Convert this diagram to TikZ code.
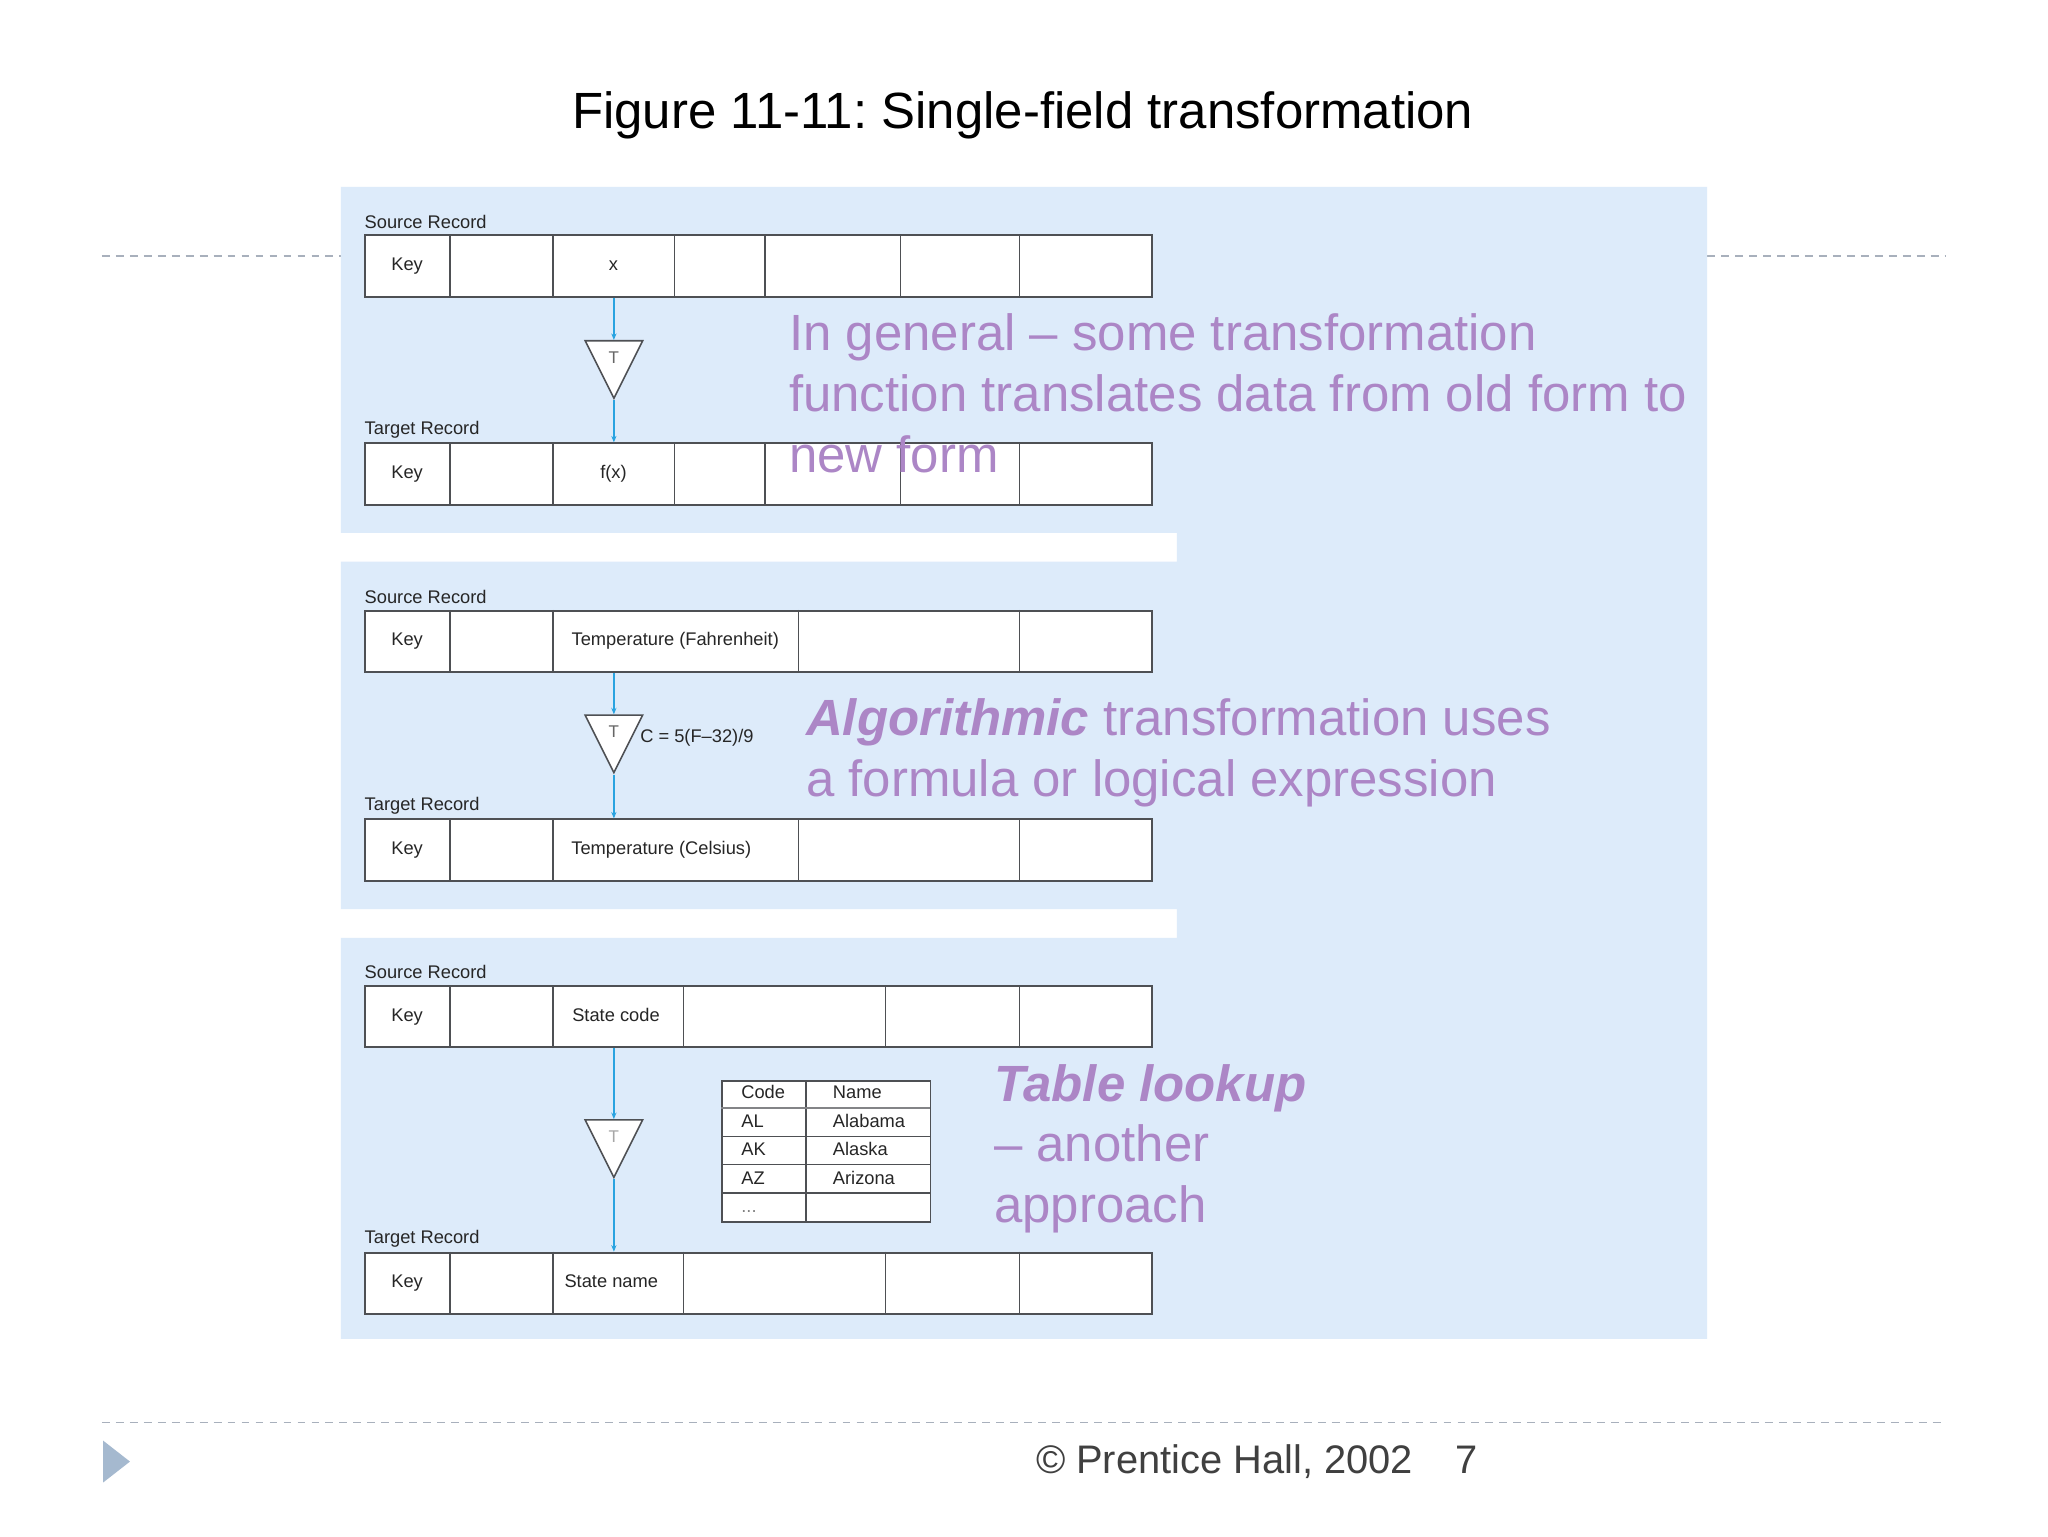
\documentclass[tikz,border=0pt]{standalone}
\usepackage{fontspec}
\setmainfont{Liberation Sans}
\usepackage{xcolor}
\usetikzlibrary{shapes.geometric, arrows.meta, positioning}
\frenchspacing

\definecolor{panelblue}{RGB}{221,235,250}
\definecolor{notepurple}{RGB}{172,134,198}
\definecolor{flowblue}{RGB}{41,163,224}
\definecolor{rulegrey}{RGB}{168,176,188}
\definecolor{boxgrey}{RGB}{78,80,84}
\definecolor{footgrey}{RGB}{64,64,64}
\definecolor{markblue}{RGB}{165,185,207}

\begin{document}
\begin{tikzpicture}[
        x=1pt, y=-1pt,
        record/.style={rectangle, draw=boxgrey, line width=1.4pt, fill=white, minimum width=602pt, minimum height=47pt, inner sep=0pt, anchor=north west},
        divider/.style={draw=boxgrey, line width=1.1pt},
        field/.style={font=\fontsize{14}{16}\selectfont, text=black!85, inner sep=0pt, text height=10pt, text depth=3pt},
        caption/.style={font=\fontsize{14}{16}\selectfont, text=black!85, inner sep=0pt, anchor=west},
        tfun/.style={isosceles triangle, isosceles triangle stretches, shape border rotate=270, draw=boxgrey, fill=white, line width=1.2pt, minimum width=44pt, minimum height=44pt, inner sep=0pt, anchor=lower side, font=\fontsize{13}{15}\selectfont, text=black!60},
        flow/.style={-{Stealth[length=5pt, width=4pt]}, draw=flowblue, line width=1pt},
        note/.style={font=\fontsize{39}{47}\selectfont, text=notepurple, anchor=base west, inner sep=0pt},
        rule/.style={draw=rulegrey, line width=1.2pt, dash pattern=on 6pt off 4.7pt}
    ]
        \fill[white] (0,0) rectangle (1568,1176);
        \useasboundingbox (0,0) rectangle (1568,1176);

        % page frame
        \draw[rule] (78,196) -- (261,196);
        \draw[rule] (1307,196) -- (1490,196);
        \draw[rule] (78,1089) -- (1490,1089);
        \fill[markblue] (79,1103) -- (99.5,1119) -- (79,1135) -- cycle;

        \node[font=\fontsize{39}{47}\selectfont, anchor=base, inner sep=0pt] (title) at (783,98.3) {Figure 11-11: Single-field transformation};
        \node[font=\fontsize{30.5}{36}\selectfont, text=footgrey, anchor=base west, inner sep=0pt] (copy) at (793,1128) {© Prentice Hall, 2002};
        \node[font=\fontsize{30.5}{36}\selectfont, text=footgrey, anchor=base west, inner sep=0pt] (pageno) at (1114,1128) {7};

        % blue backdrop
        \fill[panelblue] (261,143) -- (1307,143) -- (1307,1025) -- (261,1025) -- (261,718) -- (901,718) -- (901,696)
            -- (261,696) -- (261,430) -- (901,430) -- (901,408) -- (261,408) -- cycle;

        % general case
        \node[caption] (srclbl1) at (279,169.7) {Source Record};
        \node[record] (src1) at (279,179.4) {};
        \foreach \x in {344.6,423.3,516.5,585.8,689.6,780.4}
            \draw[divider] (\x,179.4) -- (\x,226.4);
        \node[field] (srckey1) at (311.7,203.5) {Key};
        \node[field] (srcx) at (469.7,203.5) {x};

        \node[tfun] (t1) at (470,260.3) {T};

        \node[caption] (tgtlbl1) at (279,328.7) {Target Record};
        \node[record] (tgt1) at (279,338.7) {};
        \foreach \x in {344.6,423.3,516.5,585.8,689.6,780.4}
            \draw[divider] (\x,338.7) -- (\x,385.7);
        \node[field] (tgtkey1) at (311.7,362.5) {Key};
        \node[field] (tgtfx) at (469.7,362.5) {f(x)};

        \draw[flow] (src1.south -| t1.lower side) -- (t1.lower side);
        \draw[flow] (t1.apex) -- (t1.apex |- tgt1.north);

        % algorithmic case
        \node[caption] (srclbl2) at (279,456.9) {Source Record};
        \node[record] (src2) at (279,467) {};
        \foreach \x in {344.6,423.3,611.5,780.6}
            \draw[divider] (\x,467) -- (\x,514);
        \node[field] (srckey2) at (311.7,490.5) {Key};
        \node[field] (srcfahr) at (517,490.5) {Temperature (Fahrenheit)};

        \node[tfun] (t2) at (470,546.9) {T};
        \node[field, anchor=west] (formula) at (490,565) {C = 5(F–32)/9};

        \node[caption] (tgtlbl2) at (279,616.9) {Target Record};
        \node[record] (tgt2) at (279,626.6) {};
        \foreach \x in {344.6,423.3,611.5,780.6}
            \draw[divider] (\x,626.6) -- (\x,673.6);
        \node[field] (tgtkey2) at (311.7,650.5) {Key};
        \node[field] (tgtcels) at (506.3,650.5) {Temperature (Celsius)};

        \draw[flow] (src2.south -| t2.lower side) -- (t2.lower side);
        \draw[flow] (t2.apex) -- (t2.apex |- tgt2.north);

        % table lookup case
        \node[caption] (srclbl3) at (279,744.5) {Source Record};
        \node[record] (src3) at (279,754.2) {};
        \foreach \x in {344.6,423.3,523.1,678,780.6}
            \draw[divider] (\x,754.2) -- (\x,801.2);
        \node[field] (srckey3) at (311.7,778.5) {Key};
        \node[field] (srcstate) at (471.6,778.5) {State code};

        \node[tfun, text=black!35] (t3) at (470,856.8) {T};

        \node[caption] (tgtlbl3) at (279,948.1) {Target Record};
        \node[record] (tgt3) at (279,958.3) {};
        \foreach \x in {344.6,423.3,523.1,678,780.6}
            \draw[divider] (\x,958.3) -- (\x,1005.3);
        \node[field] (tgtkey3) at (311.7,982) {Key};
        \node[field] (tgtstate) at (468,982) {State name};

        \draw[flow] (src3.south -| t3.lower side) -- (t3.lower side);
        \draw[flow] (t3.apex) -- (t3.apex |- tgt3.north);

        % lookup table
        \node[rectangle, draw=boxgrey, line width=1.2pt, fill=white, minimum width=159.4pt, minimum height=108pt, inner sep=0pt, anchor=north west] (lut) at (552.3,826.9) {};
        \draw[divider] (617.2,826.9) -- (617.2,934.9);
        \draw[draw=boxgrey!70, line width=1.8pt] (552.3,848.5) -- (711.7,848.5);
        \foreach \y in {870.1,891.7,913.3}
            \draw[divider] (552.3,\y) -- (711.7,\y);
        \node[field, anchor=west] (hcode) at (567.4,837.7) {Code};
        \node[field, anchor=west] (hname) at (637.5,837.7) {Name};
        \node[field, anchor=west] (codeal) at (567.4,859.8) {AL};
        \node[field, anchor=west] (nameal) at (637.5,859.8) {Alabama};
        \node[field, anchor=west] (codeak) at (567.4,881.4) {AK};
        \node[field, anchor=west] (nameak) at (637.5,881.4) {Alaska};
        \node[field, anchor=west] (codeaz) at (567.4,903) {AZ};
        \node[field, anchor=west] (nameaz) at (637.5,903) {Arizona};
        \node[field, anchor=base west, text=black!50] (codemore) at (567.4,928) {...};

        % notes
        \node[note] (gen1) at (604,268) {In general – some transformation};
        \node[note] (gen2) at (604,315) {function translates data from old form to};
        \node[note] (gen3) at (604,362) {new form};

        \node[note] (algo1) at (617,562.8) {\textbf{\textit{Algorithmic}} transformation uses};
        \node[note] (algo2) at (617,610) {a formula or logical expression};

        \node[note] (look1) at (761,843) {\textbf{\textit{Table lookup}}};
        \node[note] (look2) at (761,889.4) {– another};
        \node[note] (look3) at (761,936.2) {approach};
    \end{tikzpicture}
\end{document}
